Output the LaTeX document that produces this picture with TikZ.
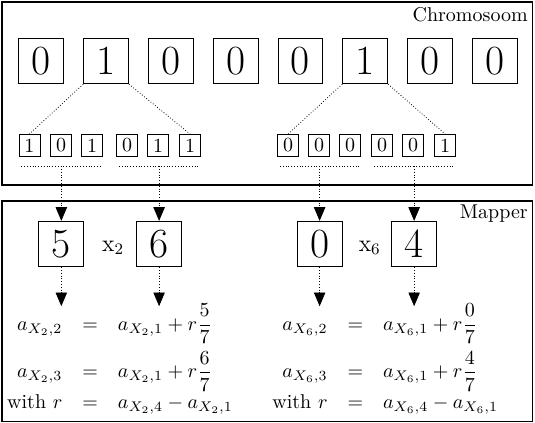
\documentclass[tikz,border=0pt]{standalone}
\usepackage{amsmath}
\usetikzlibrary{arrows.meta,positioning,calc}

\begin{document}
\begin{tikzpicture}[>={Triangle[length=2.4mm,width=2mm]},
    bigbit/.style={draw, minimum width=0.79cm, minimum height=0.8cm, inner sep=0pt, font=\huge},
    smallbit/.style={draw, minimum width=0.37cm, minimum height=0.39cm, inner sep=0pt},
    link/.style={densely dotted},
    flow/.style={densely dotted, ->}]
  \useasboundingbox (0,0) rectangle (9.40,-7.43);
  % chromosome
  \draw[semithick] (0.035,-0.035) rectangle (9.35,-3.25);
  \node[anchor=north east, inner sep=1pt] (chromlabel) at (9.315,-0.08) {Chromosoom};
  \foreach \b [count=\i] in {0,1,0,0,0,1,0,0}
    \node[bigbit] (c\i) at ({0.726+1.138*(\i-1)},-1.072) {\b};
  \foreach \x/\b [count=\i] in {0.518/1,1.072/0,1.617/1,2.232/0,2.777/1,3.339/1,
      5.061/0,5.606/0,6.151/0,6.713/0,7.258/0,7.820/1}
    \node[smallbit] (s\i) at (\x,-2.557) {\b};
  \draw[link] (c2.south west) -- (s1.north);
  \draw[link] (c2.south east) -- (s6.north);
  \draw[link] (c6.south west) -- (s7.north);
  \draw[link] (c6.south east) -- (s12.north);
  % groups of three bits
  \draw[link] ([xshift=0.05cm,yshift=-0.16cm]s1.south west) -- coordinate (u1) ([xshift=-0.03cm,yshift=-0.16cm]s3.south east);
  \draw[link] ([xshift=0.05cm,yshift=-0.16cm]s4.south west) -- coordinate (u2) ([xshift=-0.03cm,yshift=-0.16cm]s6.south east);
  \draw[link] ([xshift=0.05cm,yshift=-0.16cm]s7.south west) -- coordinate (u3) ([xshift=-0.03cm,yshift=-0.16cm]s9.south east);
  \draw[link] ([xshift=0.05cm,yshift=-0.16cm]s10.south west) -- coordinate (u4) ([xshift=-0.03cm,yshift=-0.16cm]s12.south east);
  % mapper
  \draw[semithick] (0.035,-3.53) rectangle (9.35,-7.40);
  \node[anchor=north east, inner sep=1pt] (maplabel) at (9.315,-3.56) {Mapper};
  \node[bigbit] (m1) at (u1 |- 0,-4.288) {5};
  \node[bigbit] (m2) at (u2 |- 0,-4.288) {6};
  \node[bigbit] (m3) at (u3 |- 0,-4.288) {0};
  \node[bigbit] (m4) at (u4 |- 0,-4.288) {4};
  \node[font=\large] (x2) at ($(m1.east)!0.5!(m2.west)+(0.05,-0.07)$) {x$_2$};
  \node[font=\large] (x6) at ($(m3.east)!0.5!(m4.west)+(0.05,-0.07)$) {x$_6$};
  \foreach \i in {1,...,4} {
    \draw[flow] (u\i) -- (m\i);
    \coordinate (e\i) at ([yshift=-0.685cm]m\i.south);
    \draw[flow] (m\i) -- (e\i);
  }
  \node[anchor=north west, inner sep=0pt] (eqleft) at (0.12,-5.33) {$\begin{array}{@{}rcl@{}}
      a_{X_2,2} & = & a_{X_2,1} + r\dfrac{5}{7}\\[7pt]
      a_{X_2,3} & = & a_{X_2,1} + r\dfrac{6}{7}\\[2pt]
      \mbox{with } r & = & a_{X_2,4} - a_{X_2,1}
    \end{array}$};
  \node[anchor=north west, inner sep=0pt] (eqright) at (4.78,-5.33) {$\begin{array}{@{}rcl@{}}
      a_{X_6,2} & = & a_{X_6,1} + r\dfrac{0}{7}\\[7pt]
      a_{X_6,3} & = & a_{X_6,1} + r\dfrac{4}{7}\\[2pt]
      \mbox{with } r & = & a_{X_6,4} - a_{X_6,1}
    \end{array}$};
\end{tikzpicture}
\end{document}
